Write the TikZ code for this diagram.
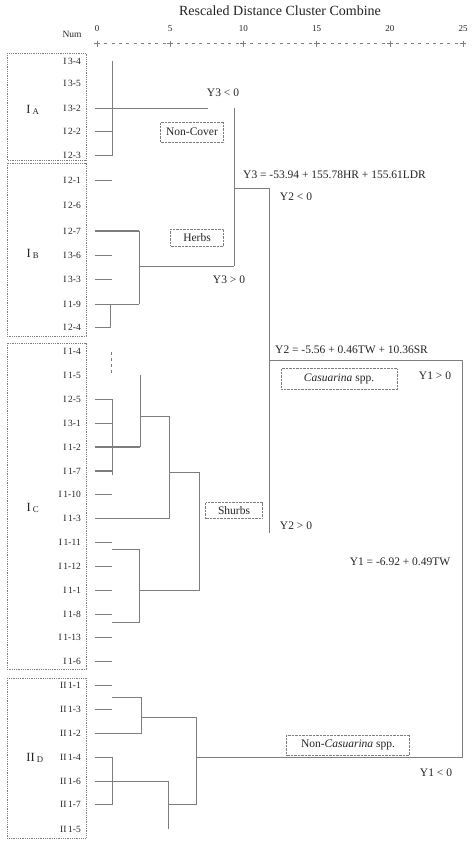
\documentclass[tikz,border=0pt]{standalone}
\usepackage{fontspec}
\setmainfont{Liberation Serif}
\usetikzlibrary{positioning}
\definecolor{linegray}{RGB}{125,125,125}
\definecolor{txtgray}{RGB}{35,35,35}

\begin{document}
\begin{tikzpicture}[x=1pt,y=-1pt,
  leaf/.style={left,inner sep=0pt,font=\fontsize{9.5}{10}\selectfont,text=txtgray},
  grp/.style={font=\fontsize{12.5}{13}\selectfont,text=txtgray},
  lab/.style={font=\fontsize{11.5}{12}\selectfont,text=txtgray,inner sep=1pt},
  cls/.style={draw=linegray,densely dotted,font=\fontsize{11.5}{12}\selectfont,text=txtgray,inner sep=1pt},
  tree/.style={linegray,line width=0.7pt},
  grpbox/.style={linegray,densely dotted,line width=0.8pt}]
\useasboundingbox (0,0) rectangle (474,841);
%\draw[help lines,yellow,thin] (0,0) grid[step=50] (474,841);
\node [font=\fontsize{14}{15}\selectfont,text=txtgray] (title) at (280,11){Rescaled Distance Cluster Combine};
\node [font=\fontsize{9.5}{10}\selectfont,text=txtgray] (num) at (72,34){Num};
% scale 0 .. 25
\draw [linegray,dash pattern=on 3pt off 4.3pt] (97,43.5) -- (463,43.5);
\node [font=\fontsize{9}{9}\selectfont,text=txtgray] (s0) at (97,29){0};
\node [font=\fontsize{9}{9}\selectfont,text=txtgray] (s5) at (170.2,29){5};
\node [font=\fontsize{9}{9}\selectfont,text=txtgray] (s10) at (243.4,29){10};
\node [font=\fontsize{9}{9}\selectfont,text=txtgray] (s15) at (316.6,29){15};
\node [font=\fontsize{9}{9}\selectfont,text=txtgray] (s20) at (389.8,29){20};
\node [font=\fontsize{9}{9}\selectfont,text=txtgray] (s25) at (463,29){25};
\draw [linegray] (97,40.5) -- (97,46.5) (94,43.5) -- (100,43.5);
\draw [linegray] (170.2,40.5) -- (170.2,46.5) (167.2,43.5) -- (173.2,43.5);
\draw [linegray] (243.4,40.5) -- (243.4,46.5) (240.4,43.5) -- (246.4,43.5);
\draw [linegray] (316.6,40.5) -- (316.6,46.5) (313.6,43.5) -- (319.6,43.5);
\draw [linegray] (389.8,40.5) -- (389.8,46.5) (386.8,43.5) -- (392.8,43.5);
\draw [linegray] (463,40.5) -- (463,46.5) (460,43.5) -- (466,43.5);
% group boxes
\draw [grpbox] (7,53) rectangle (86,160);
\draw [grpbox] (7,163) rectangle (86,336);
\draw [grpbox] (7,343) rectangle (86,669);
\draw [grpbox] (7,678) rectangle (86,838);
\node [grp] (gA) at (33,110){I\,\textsubscript{A}};
\node [grp] (gB) at (33,254){I\,\textsubscript{B}};
\node [grp] (gC) at (33,508){I\,\textsubscript{C}};
\node [grp] (gD) at (35,758){II\,\textsubscript{D}};
% leaves
\node [leaf] (l34) at (81,61){I\,3-4};
\node [leaf] (l35) at (81,83.5){I\,3-5};
\node [leaf] (l32) at (81,108){I\,3-2};
\node [leaf] (l22) at (81,131){I\,2-2};
\node [leaf] (l23) at (81,155.5){I\,2-3};
\node [leaf] (l21) at (81,180){I\,2-1};
\node [leaf] (l26) at (81,205){I\,2-6};
\node [leaf] (l27) at (81,231){I\,2-7};
\node [leaf] (l36) at (81,255.5){I\,3-6};
\node [leaf] (l33) at (81,279){I\,3-3};
\node [leaf] (l19) at (81,304){I\,1-9};
\node [leaf] (l24) at (81,327){I\,2-4};
\node [leaf] (l14) at (81,351.5){I\,1-4};
\node [leaf] (l15) at (81,375){I\,1-5};
\node [leaf] (l25) at (81,399){I\,2-5};
\node [leaf] (l31) at (81,423){I\,3-1};
\node [leaf] (l12) at (81,447){I\,1-2};
\node [leaf] (l17) at (81,471){I\,1-7};
\node [leaf] (l110) at (81,494){I\,1-10};
\node [leaf] (l13) at (81,518){I\,1-3};
\node [leaf] (l111) at (81,542){I\,1-11};
\node [leaf] (l112) at (81,566.5){I\,1-12};
\node [leaf] (l11) at (81,590){I\,1-1};
\node [leaf] (l18) at (81,614){I\,1-8};
\node [leaf] (l113) at (81,637.5){I\,1-13};
\node [leaf] (l16) at (81,661.5){I\,1-6};
\node [leaf] (m11) at (81,685.5){II\,1-1};
\node [leaf] (m13) at (81,709){II\,1-3};
\node [leaf] (m12) at (81,733){II\,1-2};
\node [leaf] (m14) at (81,757){II\,1-4};
\node [leaf] (m16) at (81,781){II\,1-6};
\node [leaf] (m17) at (81,804.5){II\,1-7};
\node [leaf] (m15) at (81,829){II\,1-5};
% cluster A
\draw [tree] (112,61) -- (112,155.5);
\draw [tree] (95,108) -- (208,108);
\draw [tree] (95,131) -- (112,131);
\draw [tree] (95,155.5) -- (112,155.5);
\draw [tree] (234,108) -- (234,266);
% cluster B
\draw [tree] (95,180) -- (112,180);
\draw [tree,line width=1.1pt] (95,231) -- (139,231);
\draw [tree] (139,231) -- (139,304);
\draw [tree] (95,255.5) -- (112,255.5);
\draw [tree] (95,279) -- (112,279);
\draw [tree] (95,304) -- (139,304);
\draw [tree] (110,304) -- (110,327) -- (95,327);
\draw [tree] (139,266) -- (234,266);
% Y3 / Y2 / Y1 splits
\draw [tree] (234,188) -- (269,188) -- (269,533);
\draw [tree] (269,360) -- (462,360) -- (462,757) -- (196,757);
% cluster C
\draw [tree,dashed] (111,352) -- (111,375);
\draw [tree] (140,375) -- (140,447);
\draw [tree] (112,399) -- (112,475);
\draw [tree] (95,399) -- (112,399);
\draw [tree] (95,423) -- (112,423);
\draw [tree,line width=1.1pt] (95,447) -- (140,447);
\draw [tree,line width=1.1pt] (95,471) -- (112,471);
\draw [tree] (95,494) -- (112,494);
\draw [tree] (140,416) -- (169,416) -- (169,518) -- (95,518);
\draw [tree] (169,472) -- (199,472) -- (199,590) -- (139,590);
\draw [tree] (112,549) -- (139,549) -- (139,622) -- (112,622);
\draw [tree] (95,542) -- (112,542);
\draw [tree] (95,566.5) -- (112,566.5);
\draw [tree] (95,590) -- (112,590);
\draw [tree] (95,614) -- (112,614);
\draw [tree] (95,637.5) -- (112,637.5);
\draw [tree] (95,661.5) -- (112,661.5);
% cluster D
\draw [tree] (95,685.5) -- (112,685.5);
\draw [tree] (95,709) -- (112,709);
\draw [tree] (112,697) -- (141,697) -- (141,733) -- (95,733);
\draw [tree] (141,717) -- (196,717) -- (196,804) -- (168,804);
\draw [tree] (168,781) -- (168,829);
\draw [tree] (95,781) -- (168,781);
\draw [tree] (95,757) -- (112,757) -- (112,804.5) -- (95,804.5);
% classes and rules
\node [lab] (y3neg) at (223,93){Y3 < 0};
\node [cls,minimum width=63pt,minimum height=20pt] (nocover) at (192,132){Non-Cover};
\node [lab,anchor=west] (y3eq) at (242,175){Y3 = -53.94 + 155.78HR + 155.61LDR};
\node [lab] (y2neg) at (296,197){Y2 < 0};
\node [cls,minimum width=53pt,minimum height=17pt] (herbs) at (197,237.5){Herbs};
\node [lab] (y3pos) at (229,280){Y3 > 0};
\node [lab,anchor=west] (y2eq) at (274,350){Y2 = -5.56 + 0.46TW + 10.36SR};
\node [cls,minimum width=116pt,minimum height=21pt] (casu) at (339,379){\textit{Casuarina} spp.};
\node [lab] (y1pos) at (435,376){Y1 > 0};
\node [cls,minimum width=57pt,minimum height=16pt] (shurbs) at (234,510.5){Shurbs};
\node [lab] (y2pos) at (296,526){Y2 > 0};
\node [lab] (y1eq) at (400,562){Y1 = -6.92 + 0.49TW};
\node [cls,minimum width=123pt,minimum height=20pt] (noncasu) at (348,745){Non-\textit{Casuarina} spp.};
\node [lab] (y1neg) at (436,773){Y1 < 0};
\end{tikzpicture}
\end{document}
